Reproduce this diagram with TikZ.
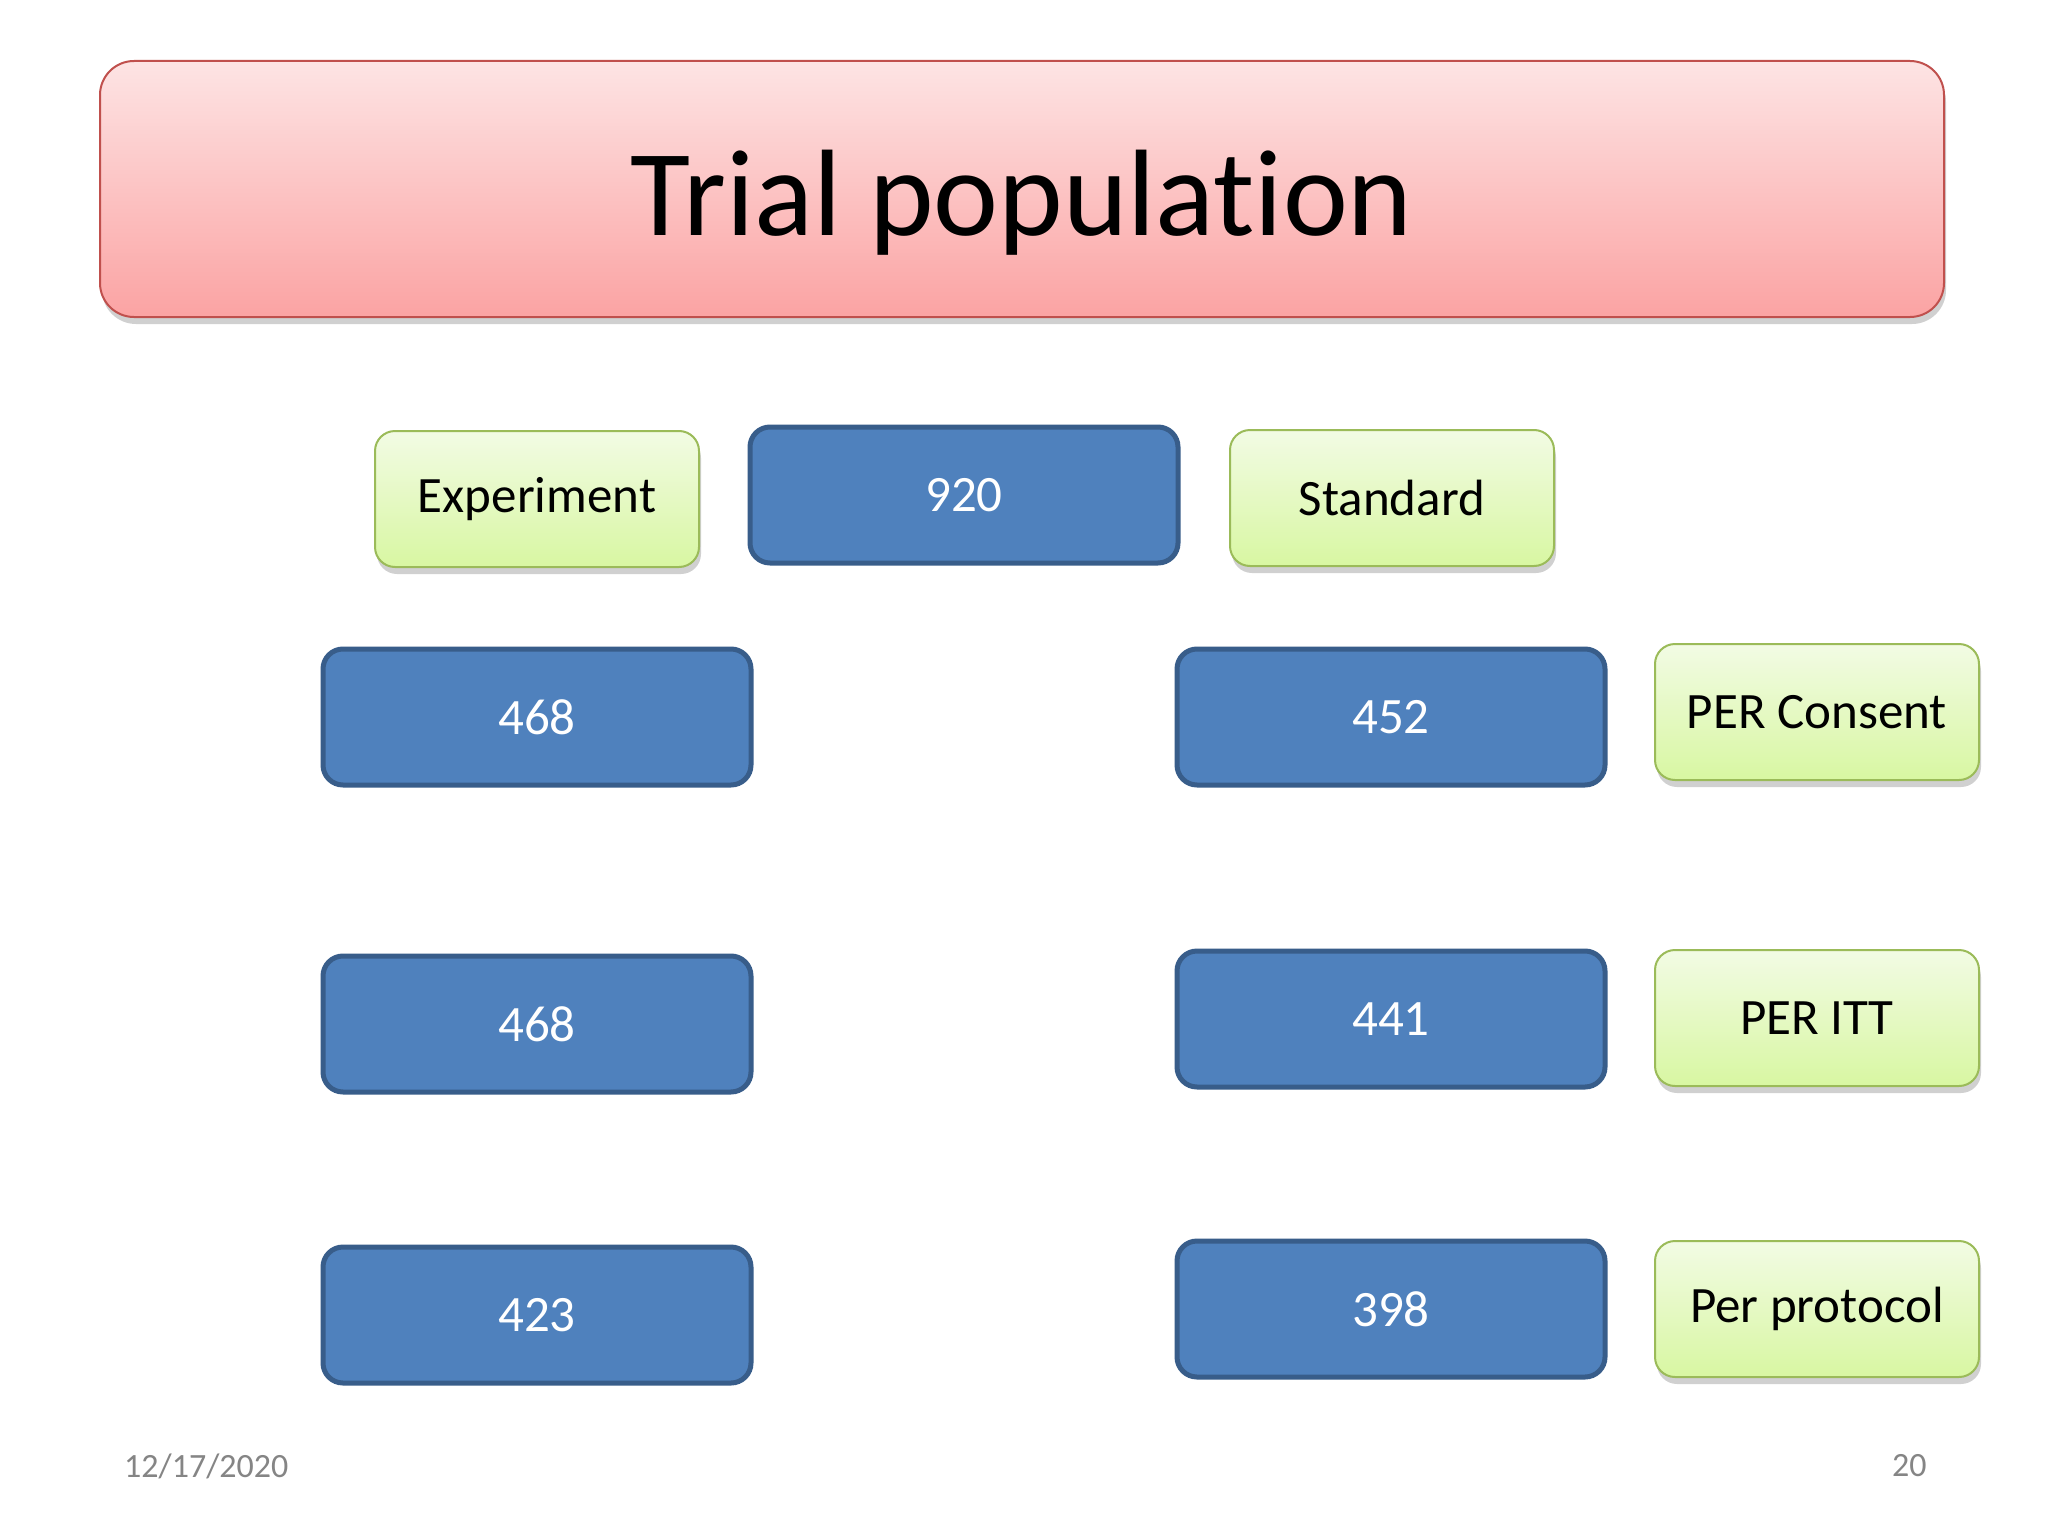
\documentclass[tikz,border=0pt]{standalone}
\usepackage{fontspec}
\setmainfont{Carlito}[Ligatures={NoCommon}]
\usetikzlibrary{shadows}
\definecolor{bluefill}{HTML}{4F81BD}
\definecolor{blueline}{HTML}{385D8A}
\definecolor{greentop}{HTML}{F2FBE4}
\definecolor{greenbot}{HTML}{D8F7A2}
\definecolor{greenline}{HTML}{9BBB59}
\definecolor{redtop}{HTML}{FDE4E4}
\definecolor{redbot}{HTML}{FBA3A3}
\definecolor{redline}{HTML}{C0504D}
\definecolor{footgray}{HTML}{858585}
\tikzset{
  numbox/.style={draw=blueline, line width=5pt, fill=bluefill, rounded corners=20pt,
    minimum width=428pt, minimum height=136pt, text=white, inner sep=0pt,
    font=\fontsize{51}{60}\selectfont},
  labbox/.style={draw=greenline, line width=2pt, top color=greentop, bottom color=greenbot,
    rounded corners=20pt, minimum width=324pt, minimum height=136pt, inner sep=0pt,
    font=\fontsize{51}{60}\selectfont,
    drop shadow={shadow xshift=2pt, shadow yshift=-7pt, opacity=0.3, fill=black!60}},
  titlebox/.style={draw=redline, line width=2pt, top color=redtop, bottom color=redbot,
    rounded corners=34pt, minimum width=1844pt, minimum height=256pt, inner sep=0pt,
    font=\fontsize{123}{140}\selectfont, text height=96pt, text depth=4pt,
    drop shadow={shadow xshift=2pt, shadow yshift=-7pt, opacity=0.3, fill=black!60}},
  foot/.style={text=footgray, font=\fontsize{34}{40}\selectfont, inner sep=0pt}
}
\begin{document}
\begin{tikzpicture}[x=1pt,y=-1pt]
\useasboundingbox[fill=white] (0,0) rectangle (2048,1536);
\node[titlebox] (title) at (1022,189) {Trial population};

\node[labbox] (exp) at (537,499) {Experiment};
\node[numbox] (n920) at (964,495) {920};
\node[labbox] (std) at (1392,498) {Standard};

\node[numbox] (e1) at (537,717) {468};
\node[numbox] (s1) at (1391,717) {452};
\node[labbox] (l1) at (1817,712) {PER Consent};

\node[numbox] (e2) at (537,1024) {468};
\node[numbox] (s2) at (1391,1019) {441};
\node[labbox] (l2) at (1817,1018) {PER ITT};

\node[numbox] (e3) at (537,1315) {423};
\node[numbox] (s3) at (1391,1309) {398};
\node[labbox] (l3) at (1817,1309) {Per protocol};

\node[foot, anchor=west] (date) at (124,1466) {12/17/2020};
\node[foot, anchor=west] (page) at (1892,1466) {20};
\end{tikzpicture}
\end{document}
